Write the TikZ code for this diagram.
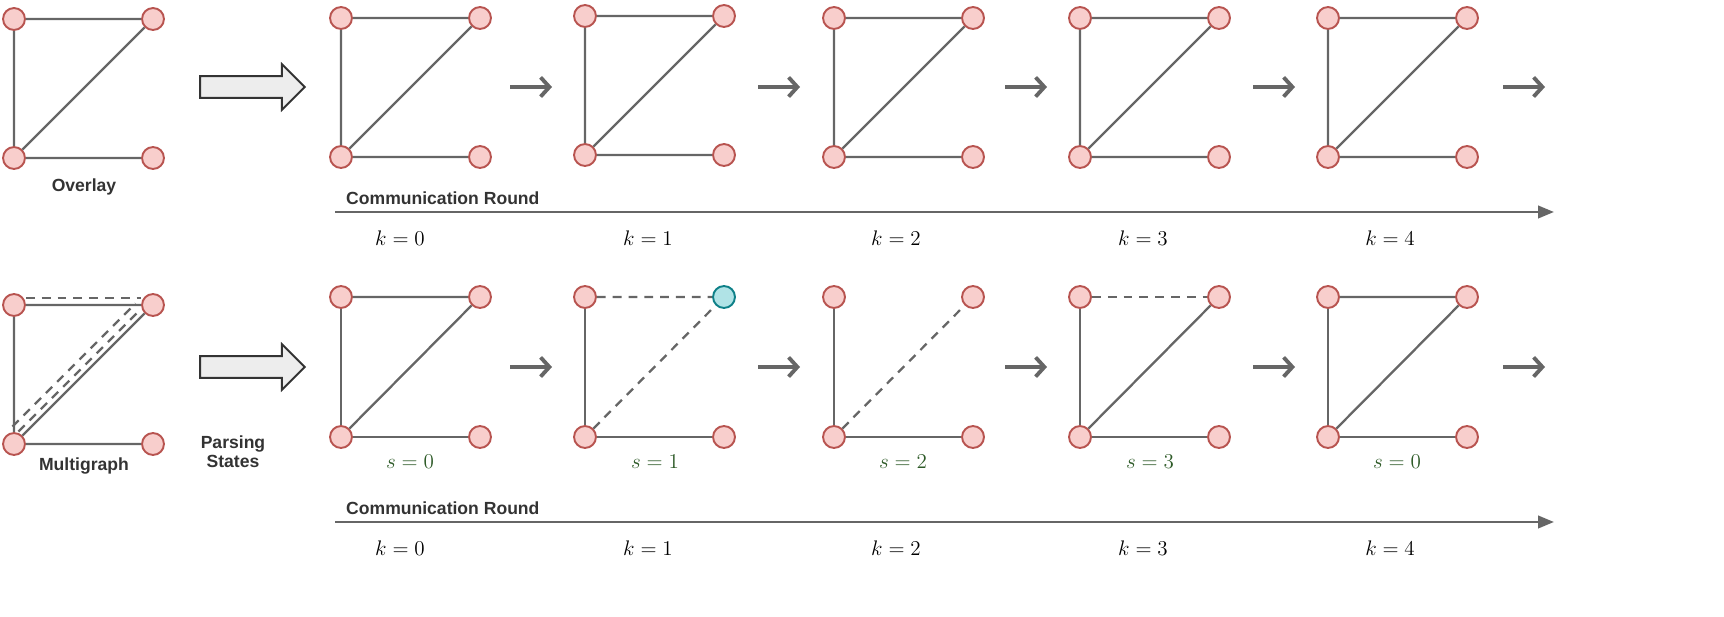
\documentclass[tikz,border=0pt]{standalone}
\usepackage{fontspec}
\setsansfont{Liberation Sans}
\usetikzlibrary{shapes.arrows,arrows.meta}
\definecolor{nf}{HTML}{F8CECC}\definecolor{nd}{HTML}{B85450}
\definecolor{tf}{HTML}{B0E3E6}\definecolor{td}{HTML}{0E8088}
\definecolor{eg}{HTML}{666666}\definecolor{sg}{HTML}{2D5A27}
\tikzset{
 vtx/.style={circle,draw=nd,fill=nf,line width=1.1pt,minimum size=22*0.567pt,inner sep=0pt},
 tvtx/.style={vtx,draw=td,fill=tf},
 edg/.style={draw=eg,line width=1.3pt},
 dedg/.style={edg,dash pattern=on 5pt off 4pt},
 lbl/.style={font=\sffamily\bfseries\fontsize{10}{12}\selectfont,text=black!80},
 mlbl/.style={font=\fontsize{13}{15}\selectfont},
 smallarr/.style={draw=eg,line width=2.2pt,-{Straight Barb[length=5pt,width=11pt]}},
 bigarr/.style={single arrow,draw=black!80,fill=black!7,line width=1.1pt,minimum height=105*0.567pt,inner xsep=0pt,inner ysep=10*0.567pt,text height=0pt,text depth=0pt,single arrow head extend=12*0.567pt,single arrow tip angle=90},
 tl/.style={edg,line width=1.5pt,-{Triangle[length=9pt,width=7pt]}}
}
\begin{document}
\begin{tikzpicture}[x=0.02cm,y=-0.02cm]
\useasboundingbox (0,0) rectangle (1724,617);
% overlay
\node[vtx] (oa) at (14,19) {}; \node[vtx] (ob) at (153,19) {};
\node[vtx] (oc) at (14,158) {}; \node[vtx] (od) at (153,158) {};
\draw[edg] (oa)--(ob) (oa)--(oc) (oc)--(ob) (oc)--(od);
\node[lbl] (olab) at (84,187) {Overlay};
% multigraph
\node[vtx] (ma) at (14,305) {}; \node[vtx] (mb) at (153,305) {};
\node[vtx] (mc) at (14,444) {}; \node[vtx] (md) at (153,444) {};
\draw[edg] (ma)--(mb) (ma)--(mc) (mc)--(mb) (mc)--(md);
\draw[dedg] ([yshift=7*0.567pt]ma.east)--([yshift=7*0.567pt]mb.west);
\draw[dedg] ([shift={(-4*0.567pt,4*0.567pt)}]mc.north east)--([shift={(-4*0.567pt,4*0.567pt)}]mb.south west);
\draw[dedg] ([shift={(-10*0.567pt,9*0.567pt)}]mc.north east)--([shift={(-9*0.567pt,10*0.567pt)}]mb.south west);
\node[lbl] (mlab) at (84,466) {Multigraph};
\node[bigarr] (ba1) at (247,87) {};
\node[bigarr] (ba2) at (247,367) {};
\node[lbl,align=center,font=\sffamily\bfseries\fontsize{10}{11}\selectfont] (ps) at (233,452) {Parsing\\States};
% top row
\foreach \i/\x/\y in {0/341/18,1/585/16,2/834/18,3/1080/18,4/1328/18}{
 \node[vtx] (ta\i) at (\x,\y) {}; \node[vtx] (tb\i) at (\x+139,\y) {};
 \node[vtx] (tc\i) at (\x,\y+139) {}; \node[vtx] (td\i) at (\x+139,\y+139) {};
 \draw[edg] (ta\i)--(tb\i) (ta\i)--(tc\i) (tc\i)--(tb\i) (tc\i)--(td\i);
}
\foreach \i/\x in {0/510,1/758,2/1005,3/1253,4/1503}{
 \coordinate (sa\i) at (\x,87); \coordinate (se\i) at (\x+42,87);
 \draw[smallarr] (sa\i)--(se\i);
 \coordinate (ua\i) at (\x,367); \coordinate (ue\i) at (\x+42,367);
 \draw[smallarr] (ua\i)--(ue\i);
}
% bottom row
\foreach \i/\x in {0/341,1/585,2/834,3/1080,4/1328}{
 \node[vtx] (ba\i) at (\x,297) {};
 \node[vtx] (bc\i) at (\x,437) {}; \node[vtx] (bd\i) at (\x+139,437) {};
 \draw[edg] (ba\i)--(bc\i) (bc\i)--(bd\i);
}
\node[vtx] (bb0) at (480,297) {}; \node[tvtx] (bb1) at (724,297) {};
\node[vtx] (bb2) at (973,297) {}; \node[vtx] (bb3) at (1219,297) {};
\node[vtx] (bb4) at (1467,297) {};
\draw[edg] (ba0)--(bb0) (bc0)--(bb0);
\draw[dedg] (ba1)--(bb1) (bc1)--(bb1);
\draw[dedg] (bc2)--(bb2);
\draw[dedg] (ba3)--(bb3); \draw[edg] (bc3)--(bb3);
\draw[edg] (ba4)--(bb4) (bc4)--(bb4);
\foreach \i/\x/\s in {0/410/0,1/655/1,2/903/2,3/1150/3,4/1397/0}{
 \node[mlbl,text=sg] (sl\i) at (\x,462) {$s=\s$};
}
% timelines
\node[lbl,anchor=west] (cr1) at (340,198) {Communication Round};
\coordinate (t1a) at (335,212); \coordinate (t1b) at (1554,212);
\draw[tl] (t1a)--(t1b);
\node[lbl,anchor=west] (cr2) at (340,508) {Communication Round};
\coordinate (t2a) at (335,522); \coordinate (t2b) at (1554,522);
\draw[tl] (t2a)--(t2b);
\foreach \i/\x in {0/400,1/648,2/896,3/1143,4/1390}{
 \node[mlbl] (ka\i) at (\x,238) {$k=\i$};
 \node[mlbl] (kb\i) at (\x,548) {$k=\i$};
}
\end{tikzpicture}
\end{document}
